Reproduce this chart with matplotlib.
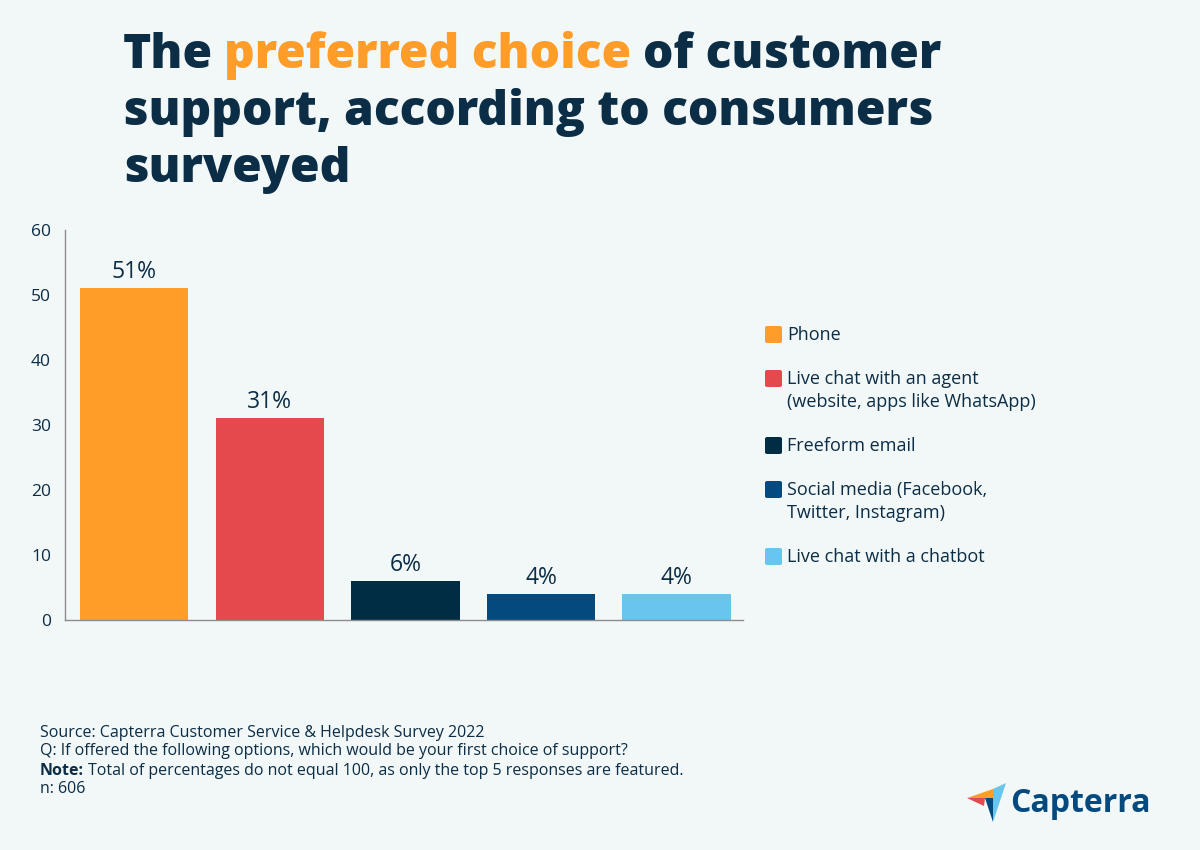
import matplotlib
matplotlib.use('Agg')
import matplotlib.pyplot as plt
from matplotlib.patches import Polygon, FancyBboxPatch

plt.rcParams['font.family'] = ['Open Sans', 'DejaVu Sans']

# data
categories = ['Phone',
              'Live chat with an agent\n(website, apps like WhatsApp)',
              'Freeform email',
              'Social media (Facebook,\nTwitter, Instagram)',
              'Live chat with a chatbot']
values = [51, 31, 6, 4, 4]
bar_labels = ['51%', '31%', '6%', '4%', '4%']
colors = ['#FF9D28', '#E5484D', '#002C44', '#044A7E', '#68C5EE']
yticks = [0, 10, 20, 30, 40, 50, 60]

footer = ['Source: Capterra Customer Service & Helpdesk Survey 2022',
          'Q: If offered the following options, which would be your first choice of support?',
          'Total of percentages do not equal 100, as only the top 5 responses are featured.',
          'n: 606']

BG = '#F2F7F8'
DARK = '#0B2D45'
W, H = 1200, 850

fig = plt.figure(figsize=(12, 8.5), dpi=100, facecolor=BG)

def fx(px):
    return px / W

def fy(py):
    return 1 - py / H

ax = fig.add_axes([fx(65), fy(620), fx(743) - fx(65), fy(230) - fy(620)])
ax.set_facecolor(BG)
x = list(range(len(values)))
ax.bar(x, values, width=0.8, color=colors)
for xi, v, lab in zip(x, values, bar_labels):
    ax.annotate(lab, (xi, v), xytext=(0, 3), textcoords='offset points',
                ha='center', va='bottom', fontsize=16.5, color=DARK)
ax.set_xlim(-0.51, 4.49)
ax.set_ylim(0, 60)
ax.set_yticks(yticks)
ax.set_xticks([])
ax.tick_params(axis='y', length=0, pad=10, labelsize=12.5, labelcolor=DARK)
for s in ['top', 'right']:
    ax.spines[s].set_visible(False)
for s in ['left', 'bottom']:
    ax.spines[s].set_color('#8C8C8C')
    ax.spines[s].set_linewidth(1)

# legend drawn by hand so the swatch lines up with the first line
line_h = 23
gap = 21
y = 335
for cat, col in zip(categories, colors):
    lines = cat.split('\n')
    sq = FancyBboxPatch((fx(765), fy(y + 8)), fx(17), 17 / H,
                        boxstyle='round,pad=0,rounding_size=0.002',
                        transform=fig.transFigure, facecolor=col, edgecolor='none')
    fig.patches.append(sq)
    for i, ln in enumerate(lines):
        fig.text(fx(787), fy(y + i * line_h), ln, fontsize=13, color=DARK,
                 ha='left', va='center')
    y += line_h * len(lines) + gap

# title with a coloured phrase
fig.canvas.draw()
renderer = fig.canvas.get_renderer()
tsize = 34.5
tcolor = '#0B2D45'
orange = '#FF9D28'

def tw(s):
    t = fig.text(0, 0, s, fontsize=tsize, fontweight='heavy')
    w = t.get_window_extent(renderer).width
    t.remove()
    return w

space = tw('T T') - tw('TT')
parts = [('The', tcolor), ('preferred choice', orange), ('of customer', tcolor)]
xpos = 123
for s, c in parts:
    t = fig.text(fx(xpos), fy(68), s, fontsize=tsize, fontweight='heavy',
                 color=c, ha='left', va='baseline')
    xpos = t.get_window_extent(renderer).x1 + space
fig.text(fx(123), fy(125), 'support, according to consumers', fontsize=tsize,
         fontweight='heavy', color=tcolor, ha='left', va='baseline')
fig.text(fx(123), fy(182), 'surveyed', fontsize=tsize,
         fontweight='heavy', color=tcolor, ha='left', va='baseline')

# footer
fsize = 11.5
fpos = [733, 751, 771, 789]
fig.text(fx(40), fy(fpos[0]), footer[0], fontsize=fsize, color=DARK, va='center')
fig.text(fx(40), fy(fpos[1]), footer[1], fontsize=fsize, color=DARK, va='center')
nt = fig.text(fx(40), fy(fpos[2]), 'Note:', fontsize=fsize, color=DARK,
              va='center', fontweight='bold')
nx = nt.get_window_extent(renderer).x1
sp = 4
fig.text((nx + sp) / W, fy(fpos[2]), footer[2], fontsize=fsize, color=DARK, va='center')
fig.text(fx(40), fy(fpos[3]), footer[3], fontsize=fsize, color=DARK, va='center')

# Capterra logo
logo = [
    ('#FF9D28', [(967, 798), (993, 789), (993, 798)]),
    ('#68C5EE', [(993, 789), (1006, 783), (993, 822)]),
    ('#044A7E', [(985, 798), (993, 798), (993, 822)]),
    ('#E5484D', [(967, 798), (985, 798), (984, 806)]),
]
for col, pts in logo:
    fig.patches.append(Polygon([(fx(a), fy(b)) for a, b in pts], closed=True,
                               transform=fig.transFigure, facecolor=col,
                               edgecolor='none'))
fig.text(fx(1010), fy(803), 'Capterra', fontsize=23, fontweight='bold',
         color='#044A7E', ha='left', va='center')

fig.savefig('out.png', dpi=100, facecolor=BG)
